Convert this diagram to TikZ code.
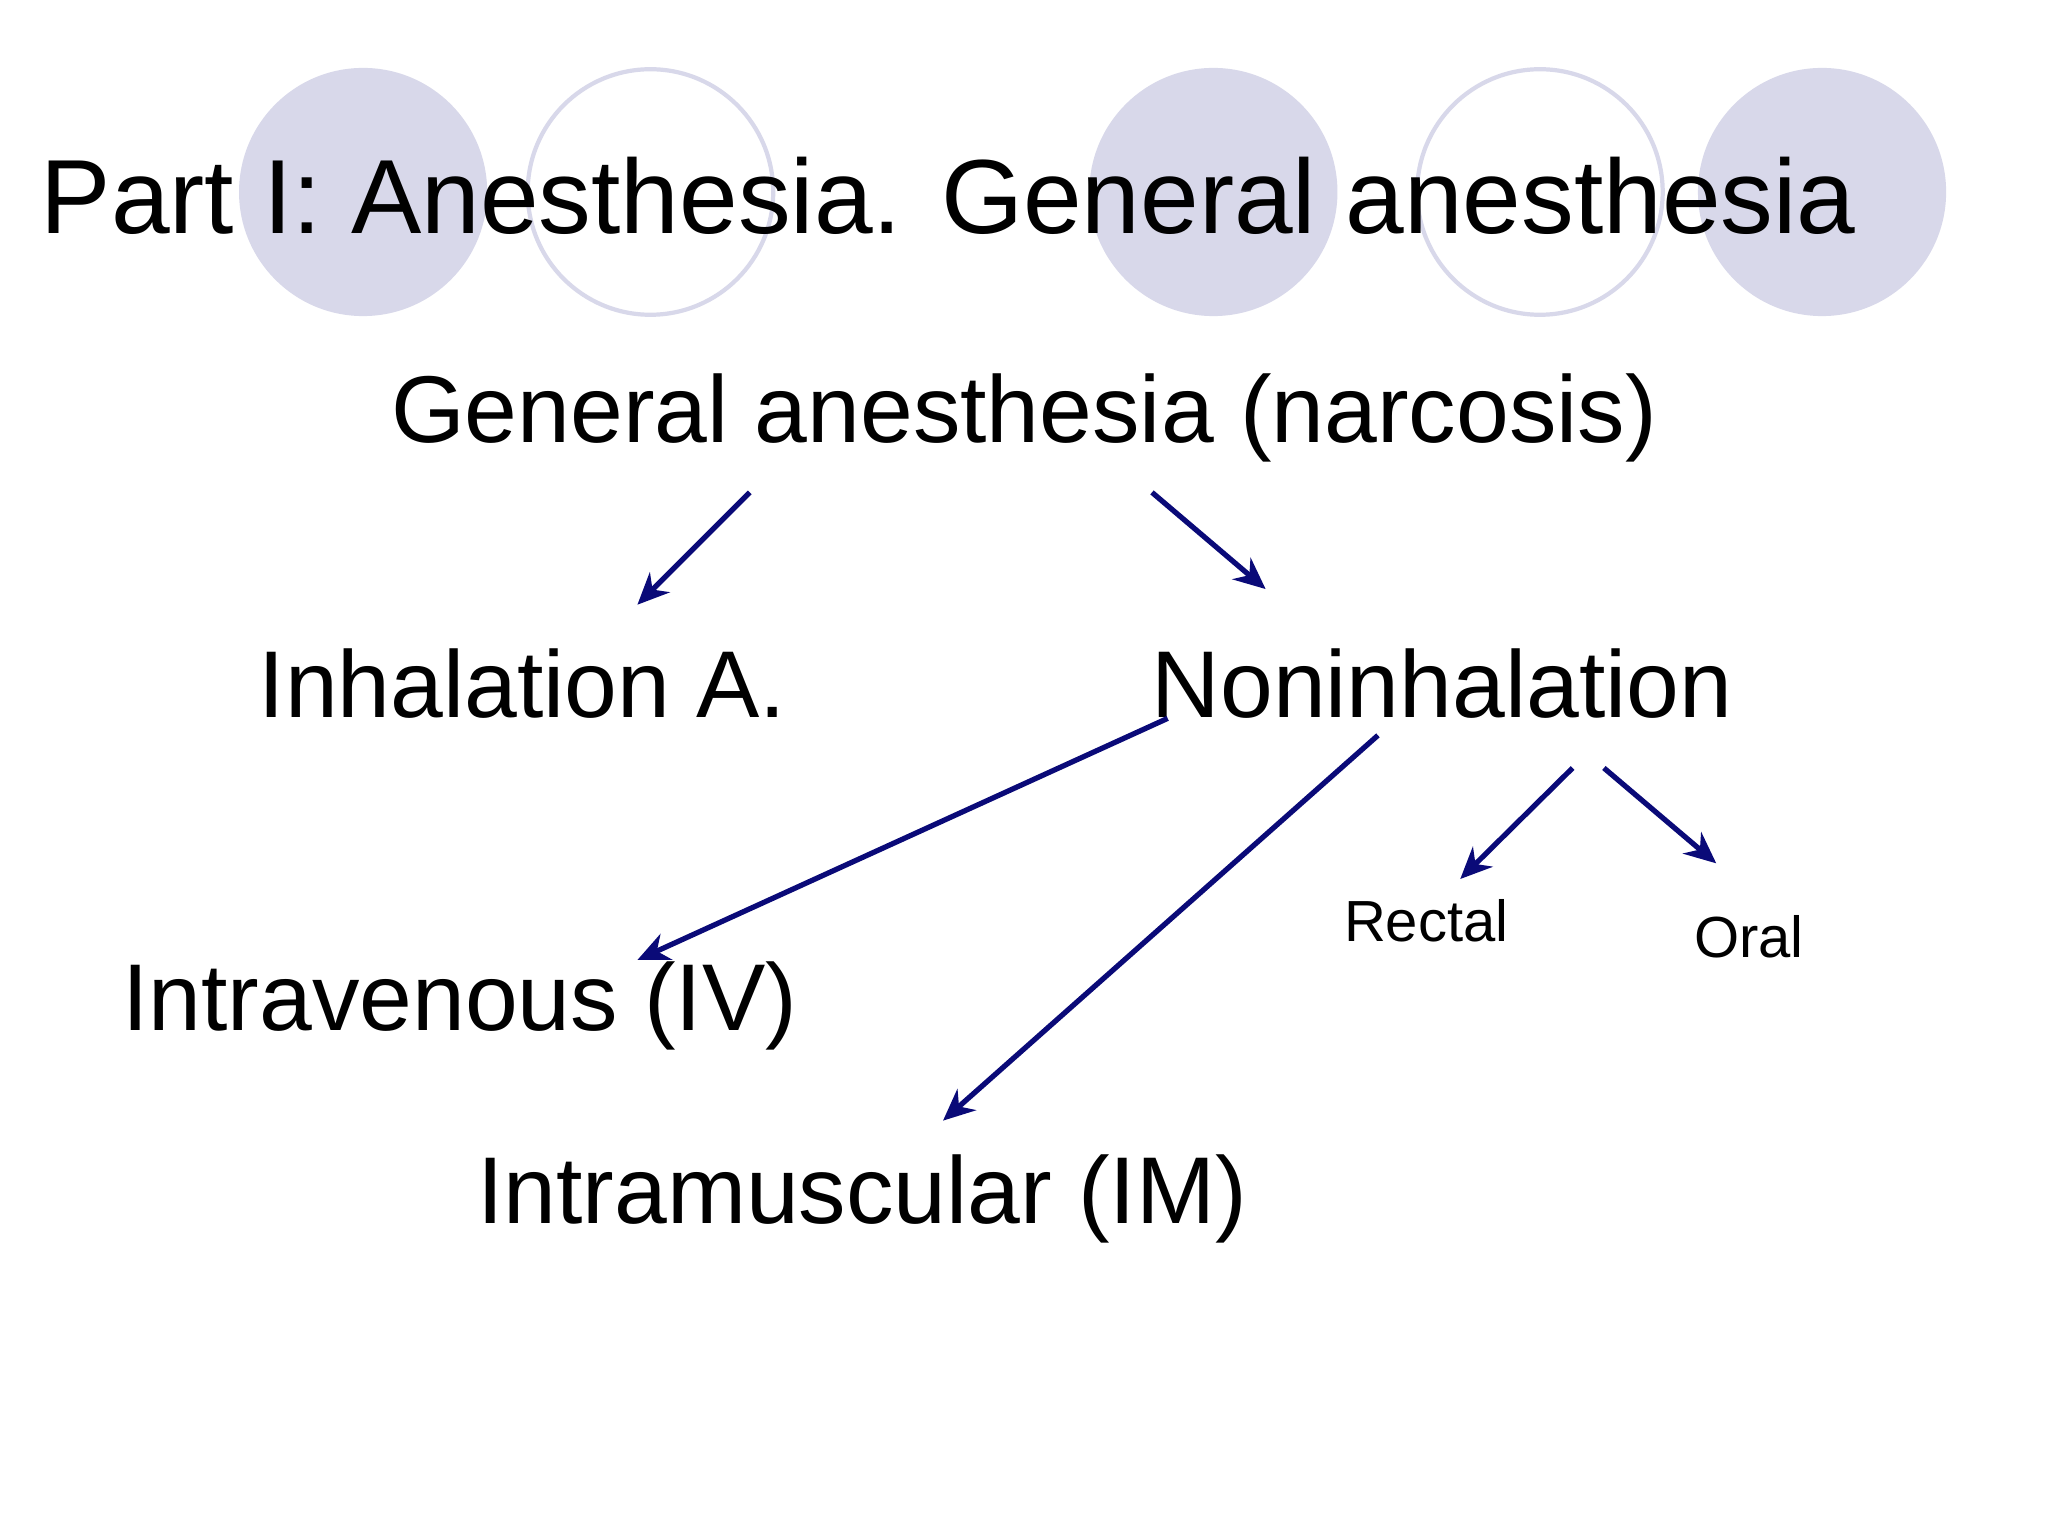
\documentclass[tikz,border=0pt]{standalone}
\usepackage{fontspec}
\setmainfont{Liberation Sans}
\usetikzlibrary{arrows.meta}
\definecolor{lav}{RGB}{216,216,234}
\definecolor{navy}{RGB}{10,10,120}
\tikzset{
  fillc/.style={fill=lav,draw=none},
  ringc/.style={draw=lav,line width=1.2pt},
  big/.style={font=\fontsize{27}{30}\selectfont,inner sep=0pt},
  small/.style={font=\fontsize{16.5}{19}\selectfont,inner sep=0pt},
  arr/.style={draw=navy,line width=1.5pt,-{Stealth[length=9pt,width=8pt]}}
}
\begin{document}
\begin{tikzpicture}[x=0.01306cm,y=-0.01306cm]
\useasboundingbox[fill=white] (0,0) rectangle (1568,1176);
\fill[fillc] (278,147) circle (95);
\draw[ringc] (498,147) circle (94);
\fill[fillc] (929,147) circle (95);
\draw[ringc] (1179,147) circle (94);
\fill[fillc] (1395,147) circle (95);
\node[inner sep=0pt,font=\fontsize{30}{34}\selectfont] (title) at (726,150) {Part I: Anesthesia. General anesthesia};
\node[big] (ga) at (784,320) {General anesthesia (narcosis)};
\node[big] (inh) at (400,523) {Inhalation A.};
\node[big] (non) at (1104,523) {Noninhalation};
\node[big] (iv) at (352,770) {Intravenous (IV)};
\node[big] (im) at (660,918) {Intramuscular (IM)};
\node[small] (rec) at (1092,705) {Rectal};
\node[small] (oral) at (1339,717) {Oral};
\coordinate (a1) at (574,377); \coordinate (b1) at (488,463);
\coordinate (a2) at (882,377); \coordinate (b2) at (969,451);
\coordinate (a3) at (894,550); \coordinate (b3) at (488,735);
\coordinate (a4) at (1055,563); \coordinate (b4) at (722,858);
\coordinate (a5) at (1204,588); \coordinate (b5) at (1118,673);
\coordinate (a6) at (1228,588); \coordinate (b6) at (1314,661);
\draw[arr] (a1) -- (b1);
\draw[arr] (a2) -- (b2);
\draw[arr] (a3) -- (b3);
\draw[arr] (a4) -- (b4);
\draw[arr] (a5) -- (b5);
\draw[arr] (a6) -- (b6);
\end{tikzpicture}
\end{document}
